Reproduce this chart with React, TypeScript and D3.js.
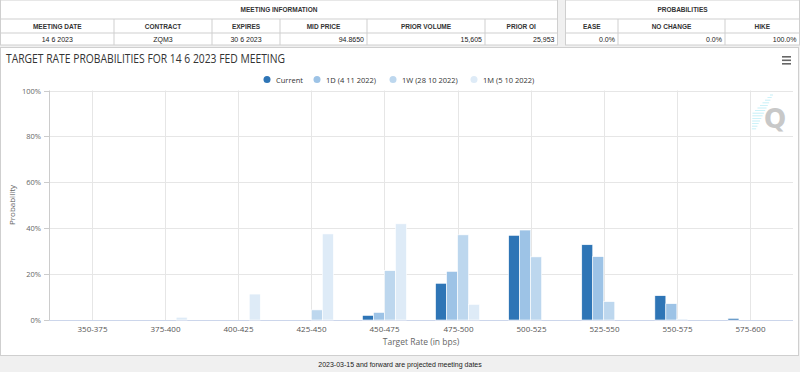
import React, { useEffect, useRef } from 'react';
import * as d3 from 'd3';

// target rate buckets (bps)
const categories = ['350-375', '375-400', '400-425', '425-450', '450-475', '475-500', '500-525', '525-550', '550-575', '575-600'];
const seriesNames = ['Current', '1D (4 11 2022)', '1W (28 10 2022)', '1M (5 10 2022)'];
const seriesColors = ['#2e75b6', '#9dc3e6', '#bdd7ee', '#deebf7'];
// probabilities in %
const current = [0, 0, 0, 0, 2.0, 16.0, 36.9, 32.8, 10.6, 0.7];
const oneDay = [0, 0, 0, 0, 3.3, 21.2, 39.2, 27.6, 7.1, 0];
const oneWeek = [0, 0, 0, 4.4, 21.5, 37.1, 27.5, 8.0, 0.4, 0];
const oneMonth = [0, 1.2, 11.3, 37.5, 41.9, 6.8, 0, 0, 0, 0];
const yTicks = [0, 20, 40, 60, 80, 100];

// header table
const meetingHeaders = ['MEETING DATE', 'CONTRACT', 'EXPIRES', 'MID PRICE', 'PRIOR VOLUME', 'PRIOR OI'];
const meetingValues = ['14 6 2023', 'ZQM3', '30 6 2023', '94.8650', '15,605', '25,953'];
const probHeaders = ['EASE', 'NO CHANGE', 'HIKE'];
const probValues = ['0.0%', '0.0%', '100.0%'];

const W = 800, H = 372;

const App = () => {
  const svgRef = useRef<SVGSVGElement>(null);

  useEffect(() => {
    const svg = d3.select(svgRef.current);
    svg.selectAll('*').remove();
    draw(svg);
  }, []);

  const draw = (svg: any) => {
    const tableFont = '"Liberation Sans", Arial, sans-serif';
    const chartFont = '"Open Sans", "DejaVu Sans", sans-serif';

    svg.append('rect').attr('width', W).attr('height', H).attr('fill', '#f0f0f0');

    // ---- header table ----
    const drawTable = (x0: number, x1: number, title: string, cols: number[], heads: string[], vals: string[], align: string[]) => {
      const g = svg.append('g');
      g.append('rect').attr('x', x0).attr('y', 0).attr('width', x1 - x0).attr('height', 45)
        .attr('fill', '#fff').attr('stroke', '#cfcfcf');
      g.append('line').attr('x1', x0).attr('x2', x1).attr('y1', 19).attr('y2', 19).attr('stroke', '#cfcfcf');
      g.append('line').attr('x1', x0).attr('x2', x1).attr('y1', 33).attr('y2', 33).attr('stroke', '#cfcfcf');
      g.append('text').attr('x', (x0 + x1) / 2).attr('y', 12).attr('text-anchor', 'middle')
        .attr('font-family', tableFont).attr('font-size', 6.5).attr('font-weight', 'bold').attr('fill', '#333').text(title);
      const edges = [x0, ...cols, x1];
      for (let i = 0; i < heads.length; i++) {
        const a = edges[i], b = edges[i + 1];
        if (i > 0) g.append('line').attr('x1', a).attr('x2', a).attr('y1', 19).attr('y2', 45).attr('stroke', '#cfcfcf');
        g.append('text').attr('x', (a + b) / 2).attr('y', 28.5).attr('text-anchor', 'middle')
          .attr('font-family', tableFont).attr('font-size', 6.5).attr('font-weight', 'bold').attr('fill', '#333').text(heads[i]);
        g.append('text').attr('x', align[i] === 'c' ? (a + b) / 2 : b - 3).attr('y', 42)
          .attr('text-anchor', align[i] === 'c' ? 'middle' : 'end')
          .attr('font-family', tableFont).attr('font-size', 7).attr('fill', '#222').text(vals[i]);
      }
    };
    drawTable(0.5, 557.5, 'MEETING INFORMATION', [114, 212, 280, 367, 485], meetingHeaders, meetingValues, ['c', 'c', 'c', 'r', 'r', 'r']);
    drawTable(565.5, 799.5, 'PROBABILITIES', [618, 725], probHeaders, probValues, ['r', 'r', 'r']);

    // ---- chart container ----
    svg.append('rect').attr('x', 0.5).attr('y', 47.5).attr('width', 798).attr('height', 308)
      .attr('fill', '#fff').attr('stroke', '#cfcfcf');

    svg.append('text').attr('x', 6).attr('y', 63).attr('font-family', chartFont).attr('font-size', 12)
      .attr('textLength', 279).attr('lengthAdjust', 'spacingAndGlyphs')
      .attr('fill', '#333').text('TARGET RATE PROBABILITIES FOR 14 6 2023 FED MEETING');

    // menu icon
    [0, 3.5, 7].forEach(d => {
      svg.append('rect').attr('x', 782).attr('y', 56 + d).attr('width', 9).attr('height', 1.6).attr('fill', '#666');
    });

    // legend
    const legendX = [267, 317, 393, 474];
    seriesNames.forEach((s, i) => {
      svg.append('circle').attr('cx', legendX[i]).attr('cy', 79.5).attr('r', 3.5).attr('fill', seriesColors[i]);
      svg.append('text').attr('x', legendX[i] + 9).attr('y', 82.5).attr('font-family', chartFont)
        .attr('font-size', 7.5).attr('fill', '#333').text(s);
    });

    // plot scales
    const plotLeft = 49, plotRight = 793, plotTop = 90.5, plotBottom = 320;
    const x = d3.scaleBand().domain(categories).range([55.5, 786.5]).paddingInner(0).paddingOuter(0);
    const y = d3.scaleLinear().domain([0, 100]).range([plotBottom, plotTop]);
    const groupW = 44;
    const x1 = d3.scaleBand().domain(seriesNames).range([0, groupW]).padding(0);

    // grid
    const grid = svg.append('g');
    yTicks.forEach(t => {
      grid.append('line').attr('x1', plotLeft).attr('x2', plotRight).attr('y1', Math.round(y(t)) + 0.5)
        .attr('y2', Math.round(y(t)) + 0.5).attr('stroke', t === 0 ? '#ccd6eb' : '#e6e6e6');
      grid.append('line').attr('x1', plotLeft - 5).attr('x2', plotLeft).attr('y1', Math.round(y(t)) + 0.5)
        .attr('y2', Math.round(y(t)) + 0.5).attr('stroke', '#ccc');
      grid.append('text').attr('x', 41).attr('y', y(t) + 3).attr('text-anchor', 'end')
        .attr('font-family', chartFont).attr('font-size', 7.5).attr('fill', '#666').text(t + '%');
    });
    categories.forEach(c => {
      const cx = Math.round(x(c)! + x.bandwidth() / 2) + 0.5;
      grid.append('line').attr('x1', cx).attr('x2', cx).attr('y1', plotTop).attr('y2', plotBottom).attr('stroke', '#e6e6e6');
      grid.append('text').attr('x', cx).attr('y', 332).attr('text-anchor', 'middle')
        .attr('font-family', chartFont).attr('font-size', 8).attr('fill', '#555').text(c);
    });
    grid.append('line').attr('x1', plotLeft + 0.5).attr('x2', plotLeft + 0.5).attr('y1', plotTop).attr('y2', plotBottom).attr('stroke', '#ccc');

    // watermark
    const wm = svg.append('g');
    for (let i = 0; i < 14; i++) {
      const len = 3 + (i < 7 ? i : 14 - i) * 1.2;
      wm.append('line').attr('x1', 773 - i * 1.3 - len).attr('x2', 773 - i * 1.3).attr('y1', 95 + i * 2.6).attr('y2', 95 + i * 2.6)
        .attr('stroke', '#a8e8f5').attr('stroke-width', 0.8).attr('opacity', 0.8);
    }
    wm.append('text').attr('x', 775).attr('y', 128).attr('text-anchor', 'middle').attr('font-family', '"DejaVu Sans", sans-serif')
      .attr('font-weight', 'bold').attr('font-size', 26).attr('fill', '#c8c8c8').text('Q');

    // bars
    const seriesData = [current, oneDay, oneWeek, oneMonth];
    const bars = svg.append('g');
    seriesData.forEach((vals, si) => {
      bars.selectAll(null).data(categories).enter().append('rect')
        .attr('x', (d: string) => x(d)! + x.bandwidth() / 2 - groupW / 2 + x1(seriesNames[si])!)
        .attr('y', (d: string, i: number) => y(vals[i]))
        .attr('width', x1.bandwidth())
        .attr('height', (d: string, i: number) => plotBottom - y(vals[i]))
        .attr('fill', seriesColors[si])
        .attr('stroke', '#fff').attr('stroke-width', 0.6);
    });

    // axis titles
    svg.append('text').attr('x', (plotLeft + plotRight) / 2).attr('y', 345).attr('text-anchor', 'middle')
      .attr('font-family', chartFont).attr('font-size', 8.5).attr('fill', '#666').text('Target Rate (in bps)');
    svg.append('text').attr('transform', 'translate(15,205) rotate(-90)').attr('text-anchor', 'middle')
      .attr('font-family', chartFont).attr('font-size', 8).attr('fill', '#666').text('Probability');

    // footer
    svg.append('text').attr('x', 400).attr('y', 367).attr('text-anchor', 'middle')
      .attr('font-family', tableFont).attr('font-size', 7).attr('fill', '#222')
      .text('2023-03-15 and forward are projected meeting dates');
  };

  return (
    <div>
      <svg ref={svgRef} width={W} height={H} style={{ position: 'absolute', left: 0, top: 0, display: 'block' }}></svg>
    </div>
  );
};

export default App;
